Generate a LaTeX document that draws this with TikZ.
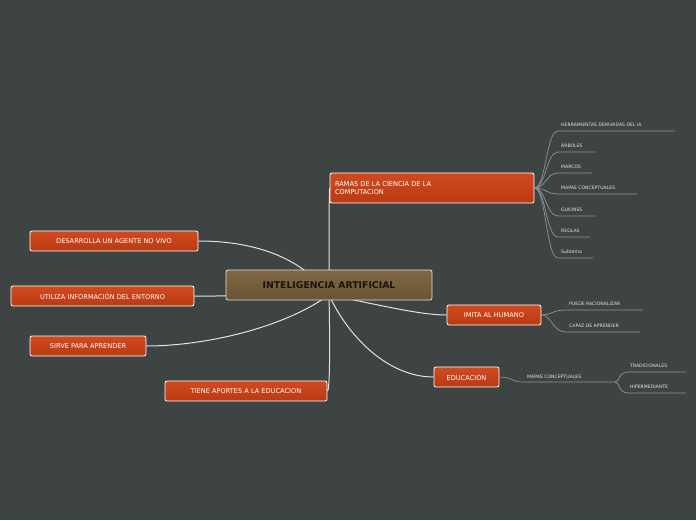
\documentclass[tikz,border=0pt]{standalone}
\usepackage{fontspec}
\setmainfont{DejaVu Sans}
\definecolor{bg}{HTML}{3E4444}
\definecolor{org}{HTML}{D24A1E}
\definecolor{orgd}{HTML}{B83A14}
\definecolor{brn}{HTML}{806844}
\definecolor{brnd}{HTML}{6A5434}
\definecolor{ln}{HTML}{8E9494}
\begin{document}
\begin{tikzpicture}[x=1pt,y=-1pt,
  topic/.style={draw=white,line width=0.8pt,rounded corners=2pt,top color=org,bottom color=orgd,text=white,font=\fontsize{6.6}{7.4}\selectfont,inner sep=0pt,anchor=center},
  conn/.style={draw=white!85!bg,line width=1pt},
  leafl/.style={draw=ln,line width=0.7pt},
  leaft/.style={text=white!85!bg,font=\fontsize{4.6}{5}\selectfont,anchor=base west,inner sep=0pt}]
\fill[bg] (0,0) rectangle (696,520);
\useasboundingbox (0,0) rectangle (696,520);
% connectors first
\coordinate (c) at (329,295);
\node[topic,minimum width=168pt,minimum height=20pt] (d) at (114,241) {DESARROLLA UN AGENTE NO VIVO};
\node[topic,minimum width=183pt,minimum height=20pt] (u) at (102.5,296) {UTILIZA INFORMACIÓN DEL ENTORNO};
\node[topic,minimum width=116pt,minimum height=20pt] (s) at (88,346) {SIRVE PARA APRENDER};
\node[topic,minimum width=162pt,minimum height=20pt] (t) at (246,391) {TIENE APORTES A LA EDUCACION};
\node[topic,minimum width=94pt,minimum height=20pt] (i) at (494,315) {IMITA AL HUMANO};
\node[topic,minimum width=65pt,minimum height=20pt] (e) at (466.5,377) {EDUCACIÓN};
\node[topic,minimum width=204pt,minimum height=30pt,align=left,text width=194pt] (r) at (432,188) {RAMAS DE LA CIENCIA DE LA\\COMPUTACION};
\draw[conn] (c) .. controls (300,255) and (250,241) .. (d.east);
\draw[conn] (c) .. controls (280,296) and (230,296) .. (u.east);
\draw[conn] (c) .. controls (280,330) and (200,346) .. (s.east);
\draw[conn] (c) .. controls (330,340) and (330,391) .. (t.east);
\draw[conn] (c) .. controls (329,240) and (329,200) .. (r.west);
\draw[conn] (c) .. controls (380,305) and (420,315) .. (i.west);
\draw[conn] (c) .. controls (350,340) and (390,377) .. (e.west);
\node[draw=white!80!brn,line width=0.8pt,rounded corners=2pt,top color=brn,bottom color=brnd,minimum width=206pt,minimum height=30pt,inner sep=0pt,text=black!85!brown,font=\bfseries\fontsize{9.3}{10}\selectfont] (m) at (329,285) {INTELIGENCIA ARTIFICIAL};
% RAMAS leaves
\foreach \y/\xe/\t/\n in {131/675/HERRAMIENTAS DERIVADAS DEL IA/r1,152/595/ÁRBOLES/r2,173/592/MARCOS/r3,194/637/MAPAS CONCEPTUALES/r4,216/595/GUIONES/r5,237/590/REGLAS/r6,258/593/Subtema/r7}{
  \coordinate (\n) at (\xe,\y);
  \draw[leafl] (r.east) .. controls (546,188) and (546,\y) .. (558,\y) -- (\n);
  \node[leaft] at (561,\y-5) {\t};
}
% IMITA leaves
\foreach \y/\xe/\t/\n in {310/643/PUEDE RACIONALIZAR/i1,332/640/CAPAZ DE APRENDER/i2}{
  \coordinate (\n) at (\xe,\y);
  \draw[leafl] (i.east) .. controls (552,315) and (552,\y) .. (566,\y) -- (\n);
  \node[leaft] at (569,\y-5) {\t};
}
% EDUCACION leaves
\coordinate (e1) at (615,382);
\draw[leafl] (e.east) .. controls (512,377) and (512,382) .. (522,382) -- (e1);
\node[leaft] at (527,378) {MAPAS CONCEPTUALES};
\foreach \y/\t/\n in {372/TRADICIONALES/e2,393/HIPERMEDIANTE/e3}{
  \coordinate (\n) at (686,\y);
  \draw[leafl] (e1) .. controls (620,382) and (618,\y) .. (628,\y) -- (\n);
  \node[leaft] at (630,\y-5) {\t};
}
\end{tikzpicture}
\end{document}
